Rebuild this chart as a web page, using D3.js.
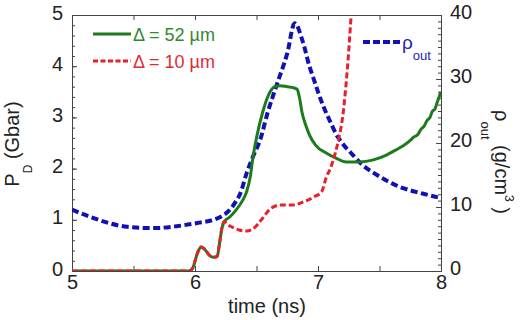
<!DOCTYPE html>
<html>
<head>
<meta charset="utf-8">
<script src="https://cdn.jsdelivr.net/npm/d3@7/dist/d3.min.js"></script>
<style>
  body { margin: 0; background: #fff; }
  svg text { font-family: "Liberation Sans", Arial, sans-serif; }
</style>
</head>
<body>
<div id="chart"></div>
<script>
// Delta = 52 um, pressure (Gbar)
const greenT = [5.0, 5.95, 5.98, 6.02, 6.05, 6.08, 6.12, 6.15, 6.18, 6.2, 6.22, 6.24, 6.28, 6.33, 6.38, 6.42, 6.45, 6.47, 6.5, 6.55, 6.6, 6.65, 6.69, 6.75, 6.8, 6.83, 6.85, 6.87, 6.9, 6.93, 6.98, 7.07, 7.15, 7.23, 7.34, 7.45, 7.56, 7.63, 7.69, 7.75, 7.78, 7.81, 7.84, 7.86, 7.89, 7.91, 7.93, 7.95, 7.97, 8.0];
const greenP = [0, 0, 0.05, 0.35, 0.47, 0.42, 0.3, 0.27, 0.28, 0.55, 0.85, 0.97, 1.05, 1.18, 1.35, 1.55, 1.85, 2.2, 2.6, 3.1, 3.45, 3.6, 3.62, 3.6, 3.58, 3.55, 3.38, 3.1, 2.85, 2.66, 2.46, 2.3, 2.2, 2.13, 2.13, 2.17, 2.27, 2.36, 2.44, 2.55, 2.62, 2.66, 2.78, 2.82, 2.95, 3.0, 3.12, 3.16, 3.3, 3.5];

// Delta = 10 um, pressure (Gbar)
const redT = [5.0, 5.95, 5.98, 6.02, 6.05, 6.08, 6.12, 6.15, 6.18, 6.2, 6.22, 6.24, 6.26, 6.3, 6.36, 6.42, 6.48, 6.54, 6.62, 6.7, 6.8, 6.88, 6.97, 7.03, 7.07, 7.1, 7.14, 7.17, 7.2, 7.23, 7.25, 7.27, 7.29];
const redP = [0, 0, 0.05, 0.35, 0.47, 0.42, 0.3, 0.27, 0.28, 0.55, 0.85, 0.97, 0.92, 0.86, 0.8, 0.78, 0.84, 1.0, 1.23, 1.29, 1.29, 1.35, 1.45, 1.55, 1.85, 2.0, 2.3, 2.6, 3.0, 3.7, 4.3, 5.0, 5.5];

// rho_out (g/cm3), right axis
const blueT = [5.0, 5.17, 5.45, 5.66, 5.85, 6.02, 6.15, 6.22, 6.28, 6.33, 6.37, 6.42, 6.47, 6.53, 6.59, 6.67, 6.75, 6.81, 6.88, 6.93, 6.96, 7.0, 7.04, 7.1, 7.15, 7.2, 7.28, 7.36, 7.48, 7.58, 7.67, 7.75, 7.83, 7.91, 8.0];
const blueRho = [9.6, 8.3, 6.9, 6.7, 7.0, 7.5, 8.0, 8.6, 9.5, 10.8, 12.2, 15.3, 17.8, 20.5, 24.7, 29.4, 34, 38.7, 35.6, 32.0, 30.3, 28, 25.9, 23.3, 21.3, 19.9, 18.2, 16.6, 15.0, 13.9, 13.1, 12.6, 12.2, 11.8, 11.4];

const xTicks = [5, 5.5, 6, 6.5, 7, 7.5, 8];
const leftTicks = [0, 1, 2, 3, 4, 5];
const rightTicks = [0, 10, 20, 30, 40];

const W = 520, H = 320;
const margin = {top: 15, right: 79, bottom: 49, left: 72};

const green = "#1d7a1d", red = "#e8202c", blue = "#1010b4";

const svg = d3.select("#chart").append("svg")
  .attr("width", W)
  .attr("height", H);

const x = d3.scaleLinear().domain([5, 8]).range([margin.left, W - margin.right]);
const yL = d3.scaleLinear().domain([0, 5]).range([H - margin.bottom, margin.top]);
const yR = d3.scaleLinear().domain([0, 40]).range([H - margin.bottom, margin.top]);

svg.append("defs").append("clipPath").attr("id", "plotClip")
  .append("rect")
  .attr("x", margin.left).attr("y", margin.top)
  .attr("width", W - margin.left - margin.right)
  .attr("height", H - margin.top - margin.bottom);

// axes
const axisColor = "#444";
const styleAxis = (g) => {
  g.select(".domain").attr("stroke", axisColor);
  g.selectAll(".tick line").attr("stroke", axisColor);
  g.selectAll(".tick text").attr("fill", "#222").style("font-size", "20px");
};
const intFmt = d => Number.isInteger(d) ? String(d) : "";

svg.append("g")
  .attr("transform", `translate(0,${H - margin.bottom})`)
  .call(d3.axisBottom(x).tickValues(xTicks).tickSizeInner(-5).tickSizeOuter(0).tickPadding(4)
    .tickFormat(intFmt))
  .call(styleAxis);

svg.append("g")
  .attr("transform", `translate(0,${margin.top})`)
  .call(d3.axisTop(x).tickValues(xTicks).tickSizeInner(-5).tickSizeOuter(0).tickFormat(""))
  .call(styleAxis);

// left minor ticks
svg.append("g")
  .attr("transform", `translate(${margin.left},0)`)
  .call(d3.axisLeft(yL).tickValues(d3.range(0, 26).map(i => i * 0.2)).tickSizeInner(-3).tickSizeOuter(0).tickFormat(""))
  .call(styleAxis);
svg.append("g")
  .attr("transform", `translate(${margin.left},0)`)
  .call(d3.axisLeft(yL).tickValues(leftTicks).tickSizeInner(-5).tickSizeOuter(0).tickPadding(9).tickFormat(intFmt))
  .call(styleAxis)
  .selectAll(".tick text").attr("dy", "0.2em");

// right minor ticks
svg.append("g")
  .attr("transform", `translate(${W - margin.right},0)`)
  .call(d3.axisRight(yR).tickValues(d3.range(0, 41)).tickSizeInner(-3).tickSizeOuter(0).tickFormat(""))
  .call(styleAxis);
svg.append("g")
  .attr("transform", `translate(${W - margin.right},0)`)
  .call(d3.axisRight(yR).tickValues(rightTicks).tickSizeInner(-5).tickSizeOuter(0).tickPadding(9).tickFormat(intFmt))
  .call(styleAxis)
  .selectAll(".tick text").attr("dy", "0.17em");

// lines
const plot = svg.append("g").attr("clip-path", "url(#plotClip)");

const lineL = d3.line().x(d => x(d[0])).y(d => yL(d[1])).curve(d3.curveMonotoneX);
const lineR = d3.line().x(d => x(d[0])).y(d => yR(d[1])).curve(d3.curveMonotoneX);

plot.append("path")
  .datum(d3.zip(blueT, blueRho))
  .attr("d", lineR)
  .attr("fill", "none")
  .attr("stroke", blue)
  .attr("stroke-width", 4)
  .attr("stroke-dasharray", "7,3.5");

plot.append("path")
  .datum(d3.zip(greenT, greenP))
  .attr("d", lineL)
  .attr("fill", "none")
  .attr("stroke", green)
  .attr("stroke-width", 3);

plot.append("path")
  .datum(d3.zip(redT, redP))
  .attr("d", lineL)
  .attr("fill", "none")
  .attr("stroke", red)
  .attr("stroke-width", 3)
  .attr("stroke-dasharray", "6,3");

// legend
const legend = svg.append("g");
legend.append("line")
  .attr("x1", 93).attr("x2", 131).attr("y1", 34).attr("y2", 34)
  .attr("stroke", green).attr("stroke-width", 3);
legend.append("text")
  .attr("x", 133).attr("y", 41)
  .attr("fill", "#2e8a2e").style("font-size", "18px")
  .text("Δ = 52 µm");
legend.append("line")
  .attr("x1", 93).attr("x2", 131).attr("y1", 61).attr("y2", 61)
  .attr("stroke", red).attr("stroke-width", 3).attr("stroke-dasharray", "5,2.5");
legend.append("text")
  .attr("x", 133).attr("y", 68)
  .attr("fill", "#e02a36").style("font-size", "18px")
  .text("Δ = 10 µm");
legend.append("line")
  .attr("x1", 363).attr("x2", 401).attr("y1", 42).attr("y2", 42)
  .attr("stroke", blue).attr("stroke-width", 4).attr("stroke-dasharray", "7,3");
const rhoLeg = legend.append("text")
  .attr("x", 402).attr("y", 49)
  .attr("fill", "#2424b4").style("font-size", "19px");
rhoLeg.append("tspan").text("ρ");
rhoLeg.append("tspan").attr("dy", 11).style("font-size", "13px").text("out");

// axis titles
svg.append("text")
  .attr("x", 267).attr("y", 313)
  .attr("text-anchor", "middle")
  .attr("fill", "#222").style("font-size", "20px")
  .text("time (ns)");

const leftTitle = svg.append("text")
  .attr("transform", "translate(19,144) rotate(-90)")
  .attr("text-anchor", "middle")
  .attr("fill", "#222").style("font-size", "20px");
leftTitle.append("tspan").text("P");
leftTitle.append("tspan").attr("dy", 13).style("font-size", "12px").text("D");
leftTitle.append("tspan").attr("dy", -13).text(" (Gbar)");

const rightTitle = svg.append("text")
  .attr("transform", "translate(495,162) rotate(90)")
  .attr("text-anchor", "middle")
  .attr("fill", "#222").style("font-size", "20px");
rightTitle.append("tspan").text("ρ");
rightTitle.append("tspan").attr("dy", 14).style("font-size", "13px").text("out");
rightTitle.append("tspan").attr("dy", -14).text(" (g/cm");
rightTitle.append("tspan").attr("dy", -10).style("font-size", "12px").text("3");
rightTitle.append("tspan").attr("dy", 10).text(" )");
</script>
</body>
</html>
